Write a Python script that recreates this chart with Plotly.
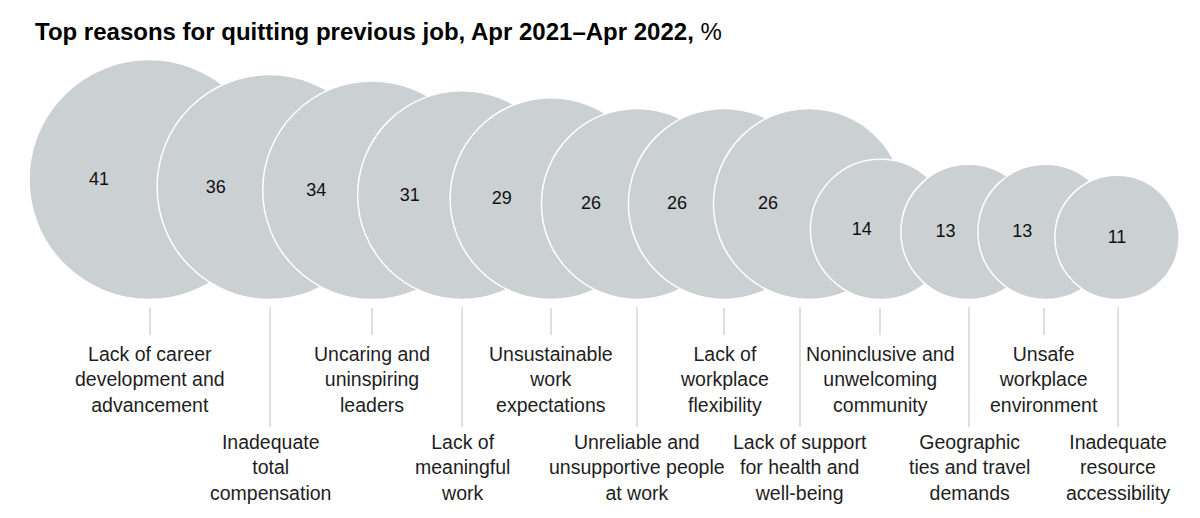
import numpy as np
import plotly.graph_objects as go

# ---- data ----
reasons = [
    "Lack of career<br>development and<br>advancement",
    "Inadequate<br>total<br>compensation",
    "Uncaring and<br>uninspiring<br>leaders",
    "Lack of<br>meaningful<br>work",
    "Unsustainable<br>work<br>expectations",
    "Unreliable and<br>unsupportive people<br>at work",
    "Lack of<br>workplace<br>flexibility",
    "Lack of support<br>for health and<br>well-being",
    "Noninclusive and<br>unwelcoming<br>community",
    "Geographic<br>ties and travel<br>demands",
    "Unsafe<br>workplace<br>environment",
    "Inadequate<br>resource<br>accessibility",
]
values = [41, 36, 34, 31, 29, 26, 26, 26, 14, 13, 13, 11]
title_text = "<b>Top reasons for quitting previous job, Apr 2021–Apr 2022,</b> %"

# ---- layout (pixel-like axis units) ----
W, H = 1200, 518
OFF = 8  # page body margin
centers_x = [149, 269.5, 372, 462, 551, 637, 724, 809, 880.5, 968.5, 1045.5, 1117]
leader_x = [150, 270, 372, 462, 551, 637, 724, 800, 880, 969, 1044, 1118]
bottom_y = 299.5
scale_k = 18.74  # radius px per sqrt(value)

vals = np.array(values, dtype=float)
radii = scale_k * np.sqrt(vals)
cx = np.array(centers_x)
cy = bottom_y - radii
left = cx - radii
label_x = []
for i in range(len(vals)):
    if i < len(vals) - 1:
        label_x.append((left[i] + left[i + 1]) / 2 + 6)
    else:
        label_x.append(cx[i])

FILL = "#cbd0d3"
LINE = "#c9c9c9"
TXT = "#1e1e1e"
FONT = "Liberation Sans, Arial, sans-serif"

fig = go.Figure()

# leader lines
lx, ly = [], []
for i, x in enumerate(leader_x):
    if i % 2 == 0:
        y0, y1 = 308, 335
    else:
        y0, y1 = 307, 427
    lx += [x, x, None]
    ly += [y0, y1, None]
fig.add_trace(go.Scatter(x=lx, y=ly, mode="lines",
                         line=dict(color=LINE, width=1.2),
                         hoverinfo="skip", showlegend=False))

# circles
fig.add_trace(go.Scatter(
    x=cx, y=cy, mode="markers",
    marker=dict(size=2 * radii, sizemode="diameter", color=FILL,
                line=dict(color="white", width=1.5), opacity=1),
    hoverinfo="skip", showlegend=False))

# value labels
fig.add_trace(go.Scatter(
    x=label_x, y=cy + 1, mode="text", text=[str(v) for v in values],
    textfont=dict(family=FONT, size=18, color="#111111"),
    textposition="middle center", hoverinfo="skip", showlegend=False))

# category labels
for i, (x, t) in enumerate(zip(leader_x, reasons)):
    top = 341 if i % 2 == 0 else 429
    fig.add_annotation(x=x, y=top, xref="x", yref="y", text=t, showarrow=False,
                       xanchor="center", yanchor="top", align="center",
                       font=dict(family=FONT, size=19.5, color=TXT))

fig.add_annotation(x=33, y=31, xref="x", yref="y", text=title_text, showarrow=False,
                   xanchor="left", yanchor="middle",
                   font=dict(family=FONT, size=24, color="#000000"))

fig.update_layout(
    width=W, height=H, autosize=False,
    margin=dict(l=0, r=0, t=0, b=0),
    paper_bgcolor="white", plot_bgcolor="white",
    xaxis=dict(range=[OFF, W + OFF], visible=False, fixedrange=True),
    yaxis=dict(range=[H + OFF, OFF], visible=False, fixedrange=True),
)

fig.write_html("out.html")
